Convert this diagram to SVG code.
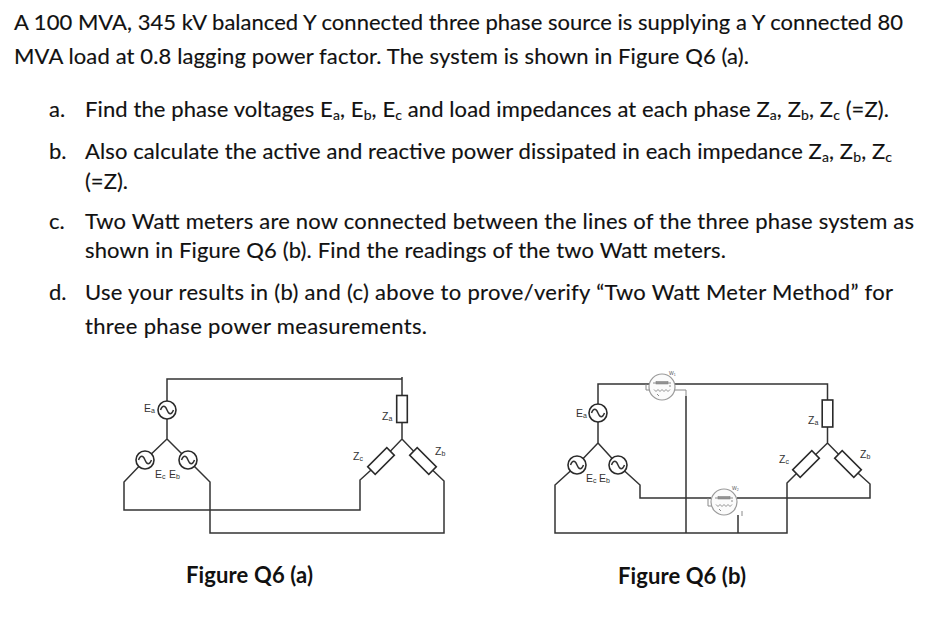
<svg xmlns="http://www.w3.org/2000/svg" width="926" height="640" viewBox="0 0 926 640">
<style>
.t{font-family:"Lato","Open Sans","Liberation Sans",sans-serif;font-size:22px;fill:#111;stroke:#111;stroke-width:.15}
.f{font-family:"Lato","Open Sans","Liberation Sans",sans-serif;font-size:22px;font-weight:700;fill:#111}
.s{font-family:"Liberation Sans",Arial,sans-serif;font-size:10.5px;fill:#333}
.u{font-size:7px}
.w{fill:none;stroke:#333;stroke-width:1.5}
.c{fill:#fff;stroke:#2a2a2a;stroke-width:1.6}
.g{fill:none;stroke:#8a8a8a;stroke-width:1}
.m{font-family:"Liberation Sans",Arial,sans-serif;font-size:5px;fill:#555}
</style>
<defs>
<g id="src"><circle class="c" r="9"/><path class="w" d="M-6.5 0C-4.5-5-2-5 0 0S4.500 5 6.500 0"/></g>
<g id="imp"><rect class="c" x="-5.300" y="-13.500" width="10.600" height="27"/></g>
<g id="mtr"><circle r="13" fill="#fbfbfb" stroke="#9a9a9a" stroke-width="1.2"/><rect x="-6" y="-5.500" width="12" height="2.500" fill="#999" stroke="#777" stroke-width=".5"/><path d="M-8 2.500l2 2 2-2 2 2 2-2 2 2 2-2 2 2 2-2" fill="none" stroke="#777" stroke-width=".8"/><path class="g" d="M-9-4H9M-5 7l2 2M7-1h2"/></g>
</defs>
<rect width="926" height="640" fill="#fff"/>
<g id="text">
<text class="t" x="14" y="30" textLength="889" lengthAdjust="spacing">A 100 MVA, 345 kV balanced Y connected three phase source is supplying a Y connected 80</text>
<text class="t" x="14" y="64" textLength="735" lengthAdjust="spacing">MVA load at 0.8 lagging power factor. The system is shown in Figure Q6 (a).</text>
<text class="t" x="49" y="117">a.</text>
<text class="t" x="85" y="117" textLength="804" lengthAdjust="spacing">Find the phase voltages E<tspan font-size="14" dy="3">a</tspan><tspan dy="-3">, E</tspan><tspan font-size="14" dy="3">b</tspan><tspan dy="-3">, E</tspan><tspan font-size="14" dy="3">c</tspan><tspan dy="-3"> and load impedances at each phase Z</tspan><tspan font-size="14" dy="3">a</tspan><tspan dy="-3">, Z</tspan><tspan font-size="14" dy="3">b</tspan><tspan dy="-3">, Z</tspan><tspan font-size="14" dy="3">c</tspan><tspan dy="-3"> (=Z).</tspan></text>
<text class="t" x="49" y="159">b.</text>
<text class="t" x="85" y="159" textLength="807" lengthAdjust="spacing">Also calculate the active and reactive power dissipated in each impedance Z<tspan font-size="14" dy="3">a</tspan><tspan dy="-3">, Z</tspan><tspan font-size="14" dy="3">b</tspan><tspan dy="-3">, Z</tspan><tspan font-size="14" dy="3">c</tspan></text>
<text class="t" x="85" y="189">(=Z).</text>
<text class="t" x="49" y="229">c.</text>
<text class="t" x="85" y="229" textLength="829" lengthAdjust="spacing">Two Watt meters are now connected between the lines of the three phase system as</text>
<text class="t" x="85" y="258" textLength="641" lengthAdjust="spacing">shown in Figure Q6 (b). Find the readings of the two Watt meters.</text>
<text class="t" x="49" y="300">d.</text>
<text class="t" x="85" y="300" textLength="808" lengthAdjust="spacing">Use your results in (b) and (c) above to prove/verify “Two Watt Meter Method” for</text>
<text class="t" x="85" y="334" textLength="342" lengthAdjust="spacing">three phase power measurements.</text>
<text class="f" x="186" y="583" textLength="127" lengthAdjust="spacing">Figure Q6 (a)</text>
<text class="f" x="618" y="584" textLength="128" lengthAdjust="spacing">Figure Q6 (b)</text>
</g>
<g id="connectors">
<path class="w" d="M167 401V379H402V377M402 379V439M167 419V439L145 460L124 482V510H360V480L381 461L402 439L423 461L444 481V533H210V482L188 460L167 439"/>
<path class="w" d="M598 404V384H649M675 384H827.500V443M598 422V443L577 465L555 485V533H787V483L806 464L827.500 443L848 464L870 484V498H737M711 498H640V485L618 465L598 443M686 396V533M738 533V515"/>
<path class="g" d="M646 384V390H686V396M708 498V506H714M742 511V516"/>
</g>
<g id="fig-a">
<g id="Ea-a"><use href="#src" x="167" y="410"/><text class="s" x="144" y="412">E<tspan class="u" dy="1">a</tspan></text></g>
<g id="Eb-a"><use href="#src" x="188" y="460"/><text class="s" x="169" y="478">E<tspan class="u" dy="1">b</tspan></text></g>
<g id="Ec-a"><use href="#src" x="145" y="460"/><text class="s" x="155" y="478">E<tspan class="u" dy="1">c</tspan></text></g>
<g id="Za-a"><use href="#imp" x="402" y="409"/><text class="s" x="382" y="420">Z<tspan class="u" dy="1">a</tspan></text></g>
<g id="Zb-a"><use href="#imp" transform="translate(423 461) rotate(-45)"/><text class="s" x="435" y="455">Z<tspan class="u" dy="1">b</tspan></text></g>
<g id="Zc-a"><use href="#imp" transform="translate(381 461) rotate(45)"/><text class="s" x="353" y="460">Z<tspan class="u" dy="1">c</tspan></text></g>
</g>
<g id="fig-b">
<g id="Ea-b"><use href="#src" x="598" y="413"/><text class="s" x="576" y="417">E<tspan class="u" dy="1">a</tspan></text></g>
<g id="Eb-b"><use href="#src" x="618" y="465"/><text class="s" x="599" y="482">E<tspan class="u" dy="1">b</tspan></text></g>
<g id="Ec-b"><use href="#src" x="577" y="465"/><text class="s" x="586" y="482">E<tspan class="u" dy="1">c</tspan></text></g>
<g id="Za-b"><use href="#imp" x="827.500" y="413.500"/><text class="s" x="808" y="424">Z<tspan class="u" dy="1">a</tspan></text></g>
<g id="Zb-b"><use href="#imp" transform="translate(848 464) rotate(-45)"/><text class="s" x="860" y="458">Z<tspan class="u" dy="1">b</tspan></text></g>
<g id="Zc-b"><use href="#imp" transform="translate(806 464) rotate(45)"/><text class="s" x="779" y="463">Z<tspan class="u" dy="1">c</tspan></text></g>
<g id="W1"><use href="#mtr" x="662" y="387"/><text class="m" x="669" y="375">W<tspan font-size="3.500" dy="1">1</tspan></text></g>
<g id="W2"><use href="#mtr" x="724" y="502"/><text class="m" x="732" y="490">W<tspan font-size="3.500" dy="1">2</tspan></text></g>
</g>
</svg>
